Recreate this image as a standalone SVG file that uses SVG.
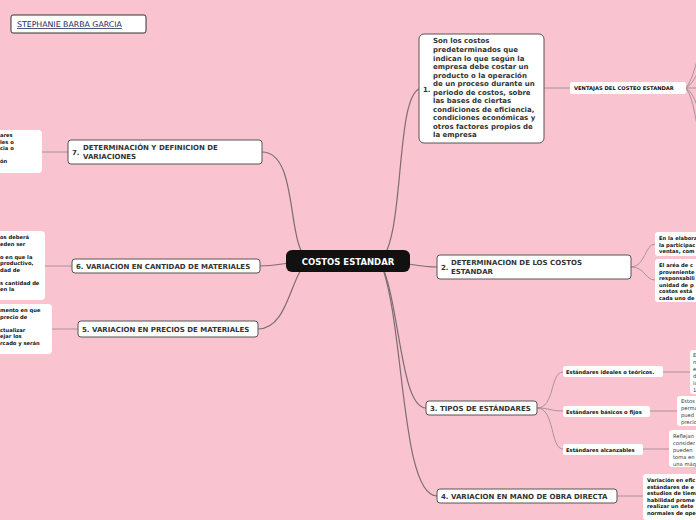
<svg xmlns="http://www.w3.org/2000/svg" width="696" height="520" viewBox="0 0 696 520">
<style>
.n{fill:#fff;stroke:#555;stroke-width:1}
.s{fill:#fff;stroke:none}
.t{font-family:"DejaVu Sans",Verdana,sans-serif;font-weight:bold;fill:#333}
.h{font-size:7px}
.m{font-size:5.2px;fill:#111}
.r{font-size:5.2px;fill:#333;font-weight:normal}
.c{fill:none;stroke:#7d6d72;stroke-width:1.2}
.c2{fill:none;stroke:#a08d93;stroke-width:0.9}
</style>
<rect width="696" height="520" fill="#f9c3d0"/>
<g id="connectors">
<path class="c" d="M380,261 C405,240 395,100 419,89"/>
<path class="c" d="M380,261 C410,263 420,267 437,267"/>
<path class="c" d="M380,261 C400,300 400,408 426,408"/>
<path class="c" d="M380,261 C405,320 400,496 437,496"/>
<path class="c" d="M310,261 C285,250 300,152 262,152"/>
<path class="c" d="M310,261 C290,262 275,266 260,266"/>
<path class="c" d="M310,261 C290,270 290,329 258,329"/>
<path class="c2" d="M544,88 L570,88"/>
<path class="c2" d="M686,88 C692,80 694,70 698,58 M686,88 C692,88 694,88 698,88 M686,88 C692,96 694,110 698,130 M686,88 C692,84 695,78 698,72 M686,88 C692,92 695,100 698,108"/>
<path class="c2" d="M631,267 C645,267 645,244 655,244 M631,267 C645,267 645,280 655,280"/>
<path class="c2" d="M537,408 C555,408 550,372 563,372 M537,408 C550,408 550,411 563,411 M537,408 C555,408 550,449 563,449"/>
<path class="c2" d="M663,372 L690,372 M650,411 L677,411 M643,449 L669,449 M617,496 L643,496"/>
<path class="c2" d="M42,152 L68,152 M45,266 L72,266 M52,329 L78,329"/>
</g>
<g id="title"><rect x="11" y="15" width="135" height="18" rx="2" fill="#fff" stroke="#333"/><text x="17" y="27" font-family="DejaVu Sans,Verdana,sans-serif" font-size="7.8" fill="#1a2a5a" text-decoration="underline">STEPHANIE BARBA GARCIA</text></g>
<g id="center"><rect x="286" y="250" width="124" height="22" rx="6" fill="#111"/><text x="348" y="264.5" text-anchor="middle" class="t" style="fill:#fff;font-size:8.5px">COSTOS ESTANDAR</text></g>
<g id="n1"><rect class="n" x="419" y="34" width="125" height="109" rx="5"/>
<text class="t h" x="423" y="92">1.</text>
<text class="t h"><tspan x="433" y="43">Son los costos</tspan><tspan x="433" y="52">predeterminados que</tspan><tspan x="433" y="60.5">indican lo que según la</tspan><tspan x="433" y="69">empresa debe costar un</tspan><tspan x="433" y="77.5">producto o la  operación</tspan><tspan x="433" y="86">de un proceso durante un</tspan><tspan x="433" y="94.5">periodo de costos, sobre</tspan><tspan x="433" y="103">las bases de ciertas</tspan><tspan x="433" y="111.5">condiciones de  eficiencia,</tspan><tspan x="433" y="120">condiciones económicas y</tspan><tspan x="433" y="128.5">otros factores propios de</tspan><tspan x="433" y="137">la empresa</tspan></text></g>
<g id="ventajas"><rect class="s" x="570" y="82" width="116" height="12" rx="2"/><text class="t m" x="574" y="90">VENTAJAS DEL COSTEO ESTANDAR</text></g>
<g id="n2"><rect class="n" x="437" y="255" width="194" height="24" rx="3"/><text class="t h" x="441" y="270">2.</text><text class="t h"><tspan x="451" y="265">DETERMINACION DE LOS COSTOS</tspan><tspan x="451" y="274">ESTANDAR</tspan></text></g>
<g id="n2a"><rect class="s" x="655" y="232" width="45" height="24" rx="3"/><text class="t m"><tspan x="659" y="240">En la elabora</tspan><tspan x="659" y="246.5">la participac</tspan><tspan x="659" y="253">ventas, com</tspan></text></g>
<g id="n2b"><rect class="s" x="655" y="259" width="45" height="43" rx="3"/><text class="t m"><tspan x="659" y="267">El aréa de c</tspan><tspan x="659" y="273.5">proveniente</tspan><tspan x="659" y="280">responsabili</tspan><tspan x="659" y="286.5">unidad de p</tspan><tspan x="659" y="293">costos está</tspan><tspan x="659" y="299.5">cada uno de</tspan></text></g>
<g id="n3"><rect class="n" x="426" y="401" width="111" height="14" rx="3"/><text class="t h" x="430" y="411">3. TIPOS DE ESTÁNDARES</text></g>
<g id="n3a"><rect class="s" x="563" y="366" width="100" height="11" rx="2"/><text class="t m" x="566" y="373.5">Estándares ideales o teóricos.</text></g>
<g id="n3b"><rect class="s" x="563" y="406" width="87" height="11" rx="2"/><text class="t m" x="566" y="413.5">Estándares básicos o fijos</text></g>
<g id="n3c"><rect class="s" x="563" y="444" width="80" height="11" rx="2"/><text class="t m" x="566" y="451.5">Estándares alcanzables</text></g>
<g id="n3an"><rect class="s" x="690" y="350" width="10" height="44" rx="3"/><text class="t r"><tspan x="693" y="357">E</tspan><tspan x="693" y="364">n</tspan><tspan x="693" y="371">e</tspan><tspan x="693" y="378">d</tspan><tspan x="693" y="385">ic</tspan><tspan x="693" y="392">1</tspan></text></g>
<g id="n3bn"><rect class="s" x="677" y="396" width="23" height="30" rx="3"/><text class="t r"><tspan x="681" y="403">Estos</tspan><tspan x="681" y="410">perma</tspan><tspan x="681" y="417">pued</tspan><tspan x="681" y="424">precio</tspan></text></g>
<g id="n3cn"><rect class="s" x="669" y="430" width="31" height="37" rx="3"/><text class="t r"><tspan x="673" y="438">Reflejan</tspan><tspan x="673" y="445">consider</tspan><tspan x="673" y="452">pueden</tspan><tspan x="673" y="459">toma en</tspan><tspan x="673" y="466">una máq</tspan></text></g>
<g id="n4"><rect class="n" x="437" y="489" width="180" height="14" rx="3"/><text class="t h" x="441" y="499">4. VARIACION EN MANO DE OBRA DIRECTA</text></g>
<g id="n4n"><rect class="s" x="643" y="474" width="57" height="46" rx="3"/><text class="t m"><tspan x="647" y="482">Variación en efic</tspan><tspan x="647" y="488.5">estándares de e</tspan><tspan x="647" y="495">estudios de tiem</tspan><tspan x="647" y="501.5">habilidad prome</tspan><tspan x="647" y="508">realizar un dete</tspan><tspan x="647" y="514.5">normales de ope</tspan></text></g>
<g id="n7"><rect class="n" x="68" y="140" width="194" height="24" rx="3"/><text class="t h" x="72" y="155">7.</text><text class="t h"><tspan x="83" y="150">DETERMINACIÓN Y DEFINICION DE</tspan><tspan x="83" y="159">VARIACIONES</tspan></text></g>
<g id="n7n"><rect class="s" x="-5" y="130" width="47" height="43" rx="4"/><text class="t m"><tspan x="0" y="137">ares</tspan><tspan x="0" y="143.5">les o</tspan><tspan x="0" y="150">cia o</tspan><tspan x="0" y="163">ón</tspan></text></g>
<g id="n6"><rect class="n" x="72" y="259" width="188" height="14" rx="3"/><text class="t h" x="76" y="269">6. VARIACION EN CANTIDAD DE MATERIALES</text></g>
<g id="n6n"><rect class="s" x="-5" y="231" width="50" height="69" rx="4"/><text class="t m"><tspan x="0" y="239">os deberá</tspan><tspan x="0" y="245.5">eden ser</tspan><tspan x="0" y="258.5">o en que la</tspan><tspan x="0" y="265">productivo,</tspan><tspan x="0" y="271.5">dad de</tspan><tspan x="0" y="284.5">s cantidad de</tspan><tspan x="0" y="291">en la</tspan></text></g>
<g id="n5"><rect class="n" x="78" y="321" width="180" height="16" rx="3"/><text class="t h" x="82" y="332">5. VARIACION EN PRECIOS DE MATERIALES</text></g>
<g id="n5n"><rect class="s" x="-5" y="304" width="57" height="50" rx="4"/><text class="t m"><tspan x="0" y="312">mento en que</tspan><tspan x="0" y="318.5">precio de</tspan><tspan x="0" y="331.5">ctualizar</tspan><tspan x="0" y="338">ejar  los</tspan><tspan x="0" y="344.5">rcado y serán</tspan></text></g>
</svg>
